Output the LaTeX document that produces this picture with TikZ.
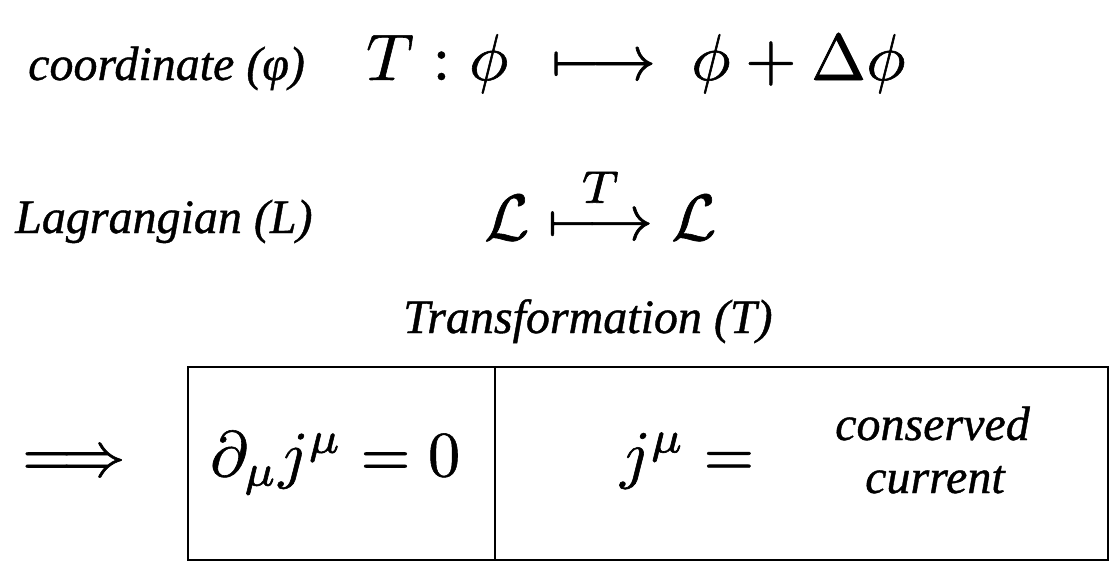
\documentclass[tikz,border=0pt]{standalone}
\usepackage{amsmath}
\usepackage{graphicx}
\usepackage{fontspec}
\newfontfamily\timesit{Liberation Serif}[ItalicFont={* Italic}]
% slightly heavier glyphs (fill + thin stroke)
\newcommand\heavy[2]{\special{pdf:literal direct 2 Tr #1 w}#2\special{pdf:literal direct 0 Tr}}
\newcommand\mymath[2]{\heavy{0.09}{\scalebox{#1}{\fontsize{10}{12}\selectfont$#2$}}}
\newcommand\mytext[1]{\heavy{0.4}{#1}}
\tikzset{
  lbl/.style={inner sep=0pt, anchor=base west, font=\fontsize{48}{56}\selectfont\timesit\itshape},
  mth/.style={inner sep=0pt, anchor=base west},
  boxline/.style={line width=2.6pt}
}
\begin{document}
\begin{tikzpicture}[x=1pt,y=-1pt]
\useasboundingbox (0,0) rectangle (1113,563);
% box
\draw[boxline] (188,367) rectangle (1108,560);
\draw[boxline] (495,367) -- (495,560);
% row 1
\node[lbl] (coord) at (28,80) {\mytext{coordinate (φ)}};
\node[mth] (tphi) at (366,80) {\mymath{6.6}{T:\phi}};
\node[mth] (map1) at (551,80) {\mymath{6.5}{\longmapsto}};
\node[mth] (rhs) at (691,80) {\mymath{6.6}{\phi+\Delta\phi}};
% row 2
\node[lbl] (lag) at (15,233) {\mytext{Lagrangian (L)}};
\node[mth] (lmap) at (484,240) {\mymath{6.55}{\mathcal{L}\stackrel{T}{\longmapsto}\mathcal{L}}};
% row 3
\node[lbl] (trans) at (403,333) {\mytext{Transformation (T)}};
% box contents
\node[mth] (impl) at (22,476) {\mymath{6.4}{\Longrightarrow}};
\node[mth] (cons) at (210,476) {\mymath{6.4}{\partial_\mu j^\mu=0}};
\node[mth] (jmu) at (620,476) {\mymath{6.5}{j^\mu=}};
\node[lbl] (c1) at (835,440) {\mytext{conserved}};
\node[lbl] (c2) at (865,493) {\mytext{current}};
\end{tikzpicture}
\end{document}
